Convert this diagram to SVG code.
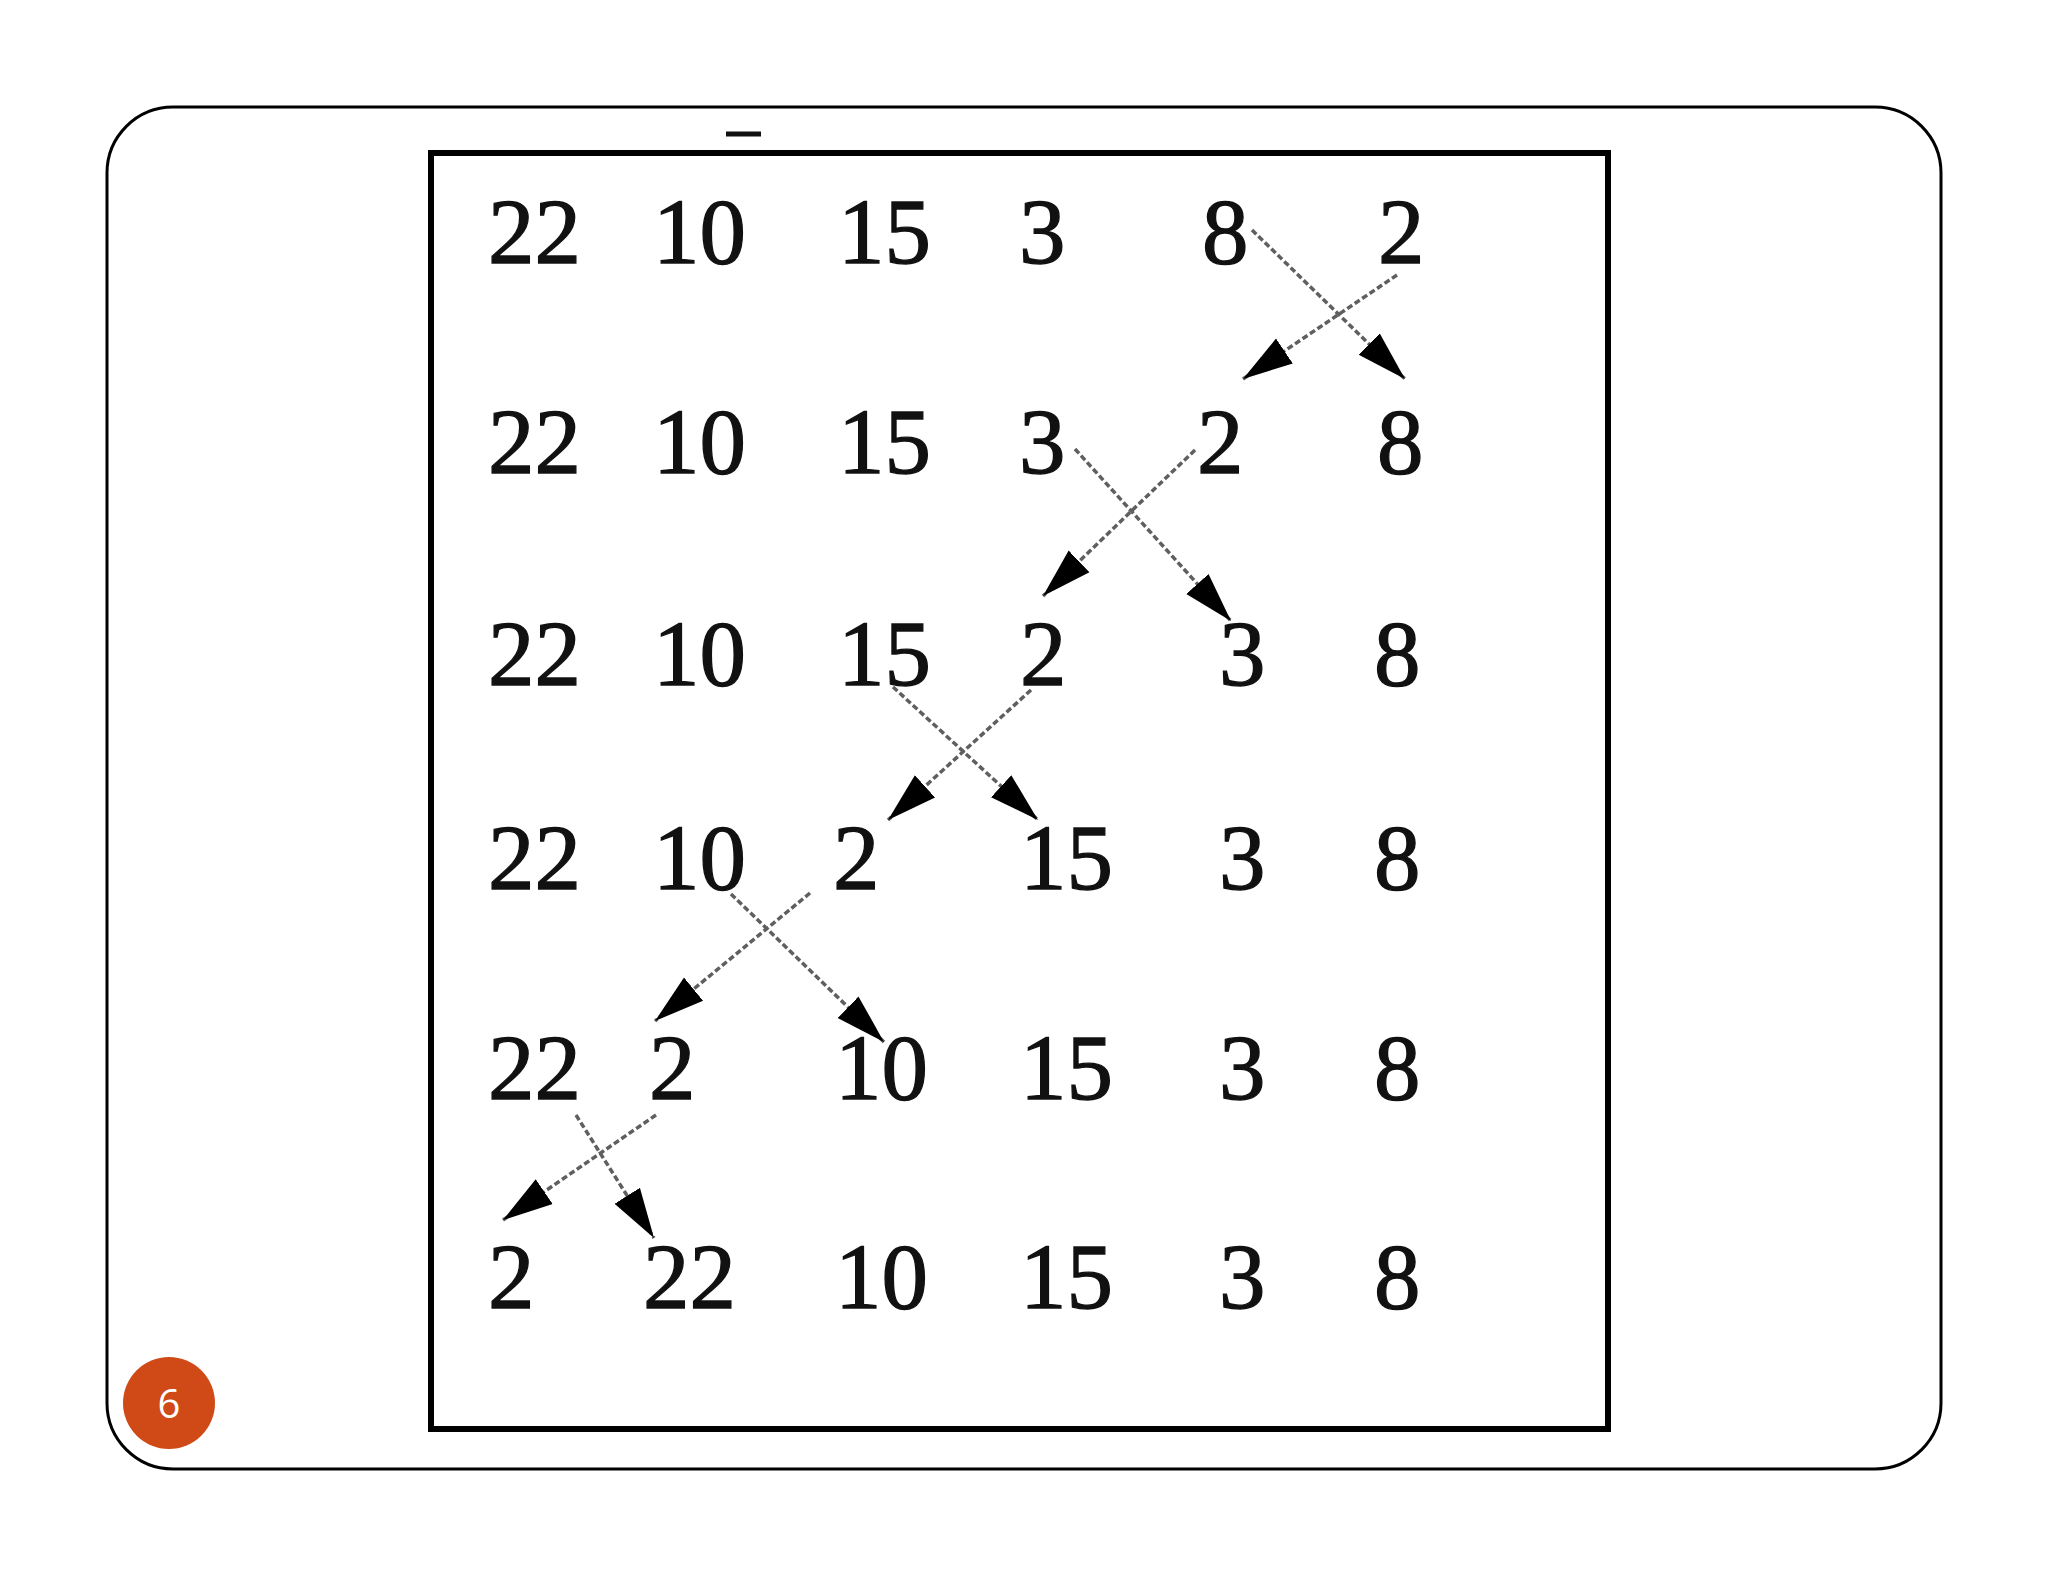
<svg xmlns="http://www.w3.org/2000/svg" width="2048" height="1582" viewBox="0 0 2048 1582">
<style>
.n{font-family:"Liberation Serif","Times New Roman",serif;font-size:93px;fill:#111;stroke:#111;stroke-width:1.3}
.c{stroke:#5f5f5f;stroke-width:3.5;stroke-dasharray:6 3;fill:none;marker-end:url(#ah)}
</style>
<defs>
<marker id="ah" markerUnits="userSpaceOnUse" markerWidth="56" markerHeight="36" viewBox="0 -18 56 36" refX="50" refY="0" orient="auto">
<path d="M0,-15 L50,0 L0,15 z" fill="#000"/>
</marker>
</defs>
<rect width="2048" height="1582" fill="#fff"/>
<rect id="frame" x="107" y="107" width="1834" height="1362" rx="66" ry="66" fill="none" stroke="#000" stroke-width="3"/>
<line x1="726" y1="134" x2="761" y2="134" stroke="#111" stroke-width="5"/>
<rect id="box" x="431" y="153" width="1177" height="1276" fill="none" stroke="#000" stroke-width="6"/>
<g id="row1">
<text class="n" x="488" y="263">22</text><text class="n" x="653" y="263">10</text><text class="n" x="838" y="263">15</text><text class="n" x="1019" y="263">3</text><text class="n" x="1202" y="263">8</text><text class="n" x="1378" y="263">2</text>
</g>
<g id="row2">
<text class="n" x="488" y="473">22</text><text class="n" x="653" y="473">10</text><text class="n" x="838" y="473">15</text><text class="n" x="1019" y="473">3</text><text class="n" x="1197" y="473">2</text><text class="n" x="1377" y="473">8</text>
</g>
<g id="row3">
<text class="n" x="488" y="685">22</text><text class="n" x="653" y="685">10</text><text class="n" x="838" y="685">15</text><text class="n" x="1020" y="685">2</text><text class="n" x="1219" y="685">3</text><text class="n" x="1374" y="685">8</text>
</g>
<g id="row4">
<text class="n" x="488" y="889">22</text><text class="n" x="653" y="889">10</text><text class="n" x="833" y="889">2</text><text class="n" x="1020" y="889">15</text><text class="n" x="1219" y="889">3</text><text class="n" x="1374" y="889">8</text>
</g>
<g id="row5">
<text class="n" x="488" y="1099">22</text><text class="n" x="649" y="1099">2</text><text class="n" x="835" y="1099">10</text><text class="n" x="1020" y="1099">15</text><text class="n" x="1219" y="1099">3</text><text class="n" x="1374" y="1099">8</text>
</g>
<g id="row6">
<text class="n" x="488" y="1308">2</text><text class="n" x="643" y="1308">22</text><text class="n" x="835" y="1308">10</text><text class="n" x="1020" y="1308">15</text><text class="n" x="1219" y="1308">3</text><text class="n" x="1374" y="1308">8</text>
</g>
<g id="connectors">
<line class="c" x1="1252" y1="230" x2="1405" y2="379"/>
<line class="c" x1="1397" y1="275" x2="1243" y2="379"/>
<line class="c" x1="1075" y1="449" x2="1231" y2="621"/>
<line class="c" x1="1195" y1="450" x2="1043" y2="596"/>
<line class="c" x1="893" y1="687" x2="1038" y2="820"/>
<line class="c" x1="1031" y1="690" x2="888" y2="820"/>
<line class="c" x1="731" y1="894" x2="884" y2="1042"/>
<line class="c" x1="810" y1="893" x2="655" y2="1021"/>
<line class="c" x1="576" y1="1115" x2="654" y2="1238"/>
<line class="c" x1="656" y1="1115" x2="503" y2="1220"/>
</g>
<g id="page-number">
<circle cx="169" cy="1403" r="46" fill="#D04A17"/>
<text x="169" y="1418" text-anchor="middle" font-family="'Open Sans','Liberation Sans',sans-serif" font-size="40" fill="#fff">6</text>
</g>
</svg>
